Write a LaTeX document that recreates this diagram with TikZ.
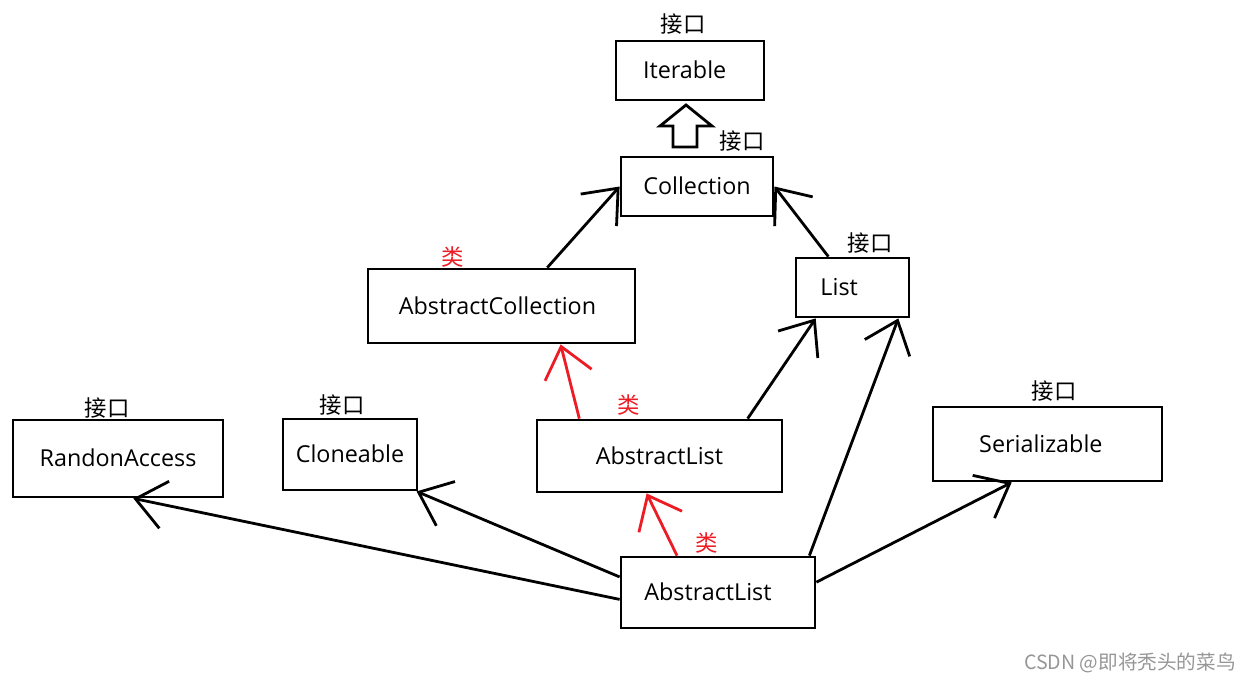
\documentclass[tikz,border=0pt]{standalone}
\usepackage{fontspec}
\setmainfont{Open Sans}
\newfontfamily\cjk{Noto Sans CJK SC}
\usepackage{xcolor}
\definecolor{pred}{RGB}{237,28,36}
\definecolor{wgray}{RGB}{150,150,150}
\usetikzlibrary{positioning, calc, arrows.meta}
\tikzstyle{Box} = [
draw,
line width=2.1pt,
inner sep=0pt,
text depth=1pt,
font=\fontsize{17.5}{20}\selectfont]
\tikzstyle{Tag} = [inner sep=0pt, font=\cjk\fontsize{16.8}{19}\selectfont]
\tikzstyle{Arrow} = [
line width=2.1pt,
-{Straight Barb[length=22pt, width=36pt]}]
\tikzstyle{ArrowRed} = [
line width=2.1pt,
pred,
-{Straight Barb[length=22pt, width=36pt]}]

\begin{document}
\begin{tikzpicture}[x=0.75pt, y=-0.75pt]
    \useasboundingbox (0,0) rectangle (1251,683);

    \node [Box, minimum width=111pt, minimum height=44.25pt] (iter) at (690,70.5) {Iterable\kern8pt};
    \node [Box, minimum width=114pt, minimum height=44.25pt] (coll) at (697,186.5) {Collection};
    \node [Box, minimum width=200.25pt, minimum height=55.5pt] (acoll) at (501.5,306) {AbstractCollection\kern6pt};
    \node [Box, minimum width=84.75pt, minimum height=44.25pt] (list) at (852.5,287.5) {List\kern20pt};
    \node [Box, minimum width=157.5pt, minimum height=57.75pt] (rand) at (118,458.5) {RandonAccess};
    \node [Box, minimum width=100.5pt, minimum height=53.25pt] (clone) at (350,454.5) {Cloneable};
    \node [Box, minimum width=183.75pt, minimum height=54pt] (alist) at (659.5,456) {AbstractList};
    \node [Box, minimum width=171.75pt, minimum height=55.5pt] (ser) at (1047.5,444) {Serializable\kern10pt};
    \node [Box, minimum width=145.5pt, minimum height=53.25pt] (alist2) at (718,592.5) {AbstractList\kern15pt};

    % tags
    \node [Tag] (t1) at (683,24) {接口};
    \node [Tag] (t2) at (742,141) {接口};
    \node [Tag, pred] (t3) at (453,257) {类};
    \node [Tag] (t4) at (870,243) {接口};
    \node [Tag] (t5) at (107,408) {接口};
    \node [Tag] (t6) at (342,405) {接口};
    \node [Tag, pred] (t7) at (629,405) {类};
    \node [Tag] (t8) at (1054,391) {接口};
    \node [Tag, pred] (t9) at (707,543) {类};

    % hollow arrow Collection -> Iterable
    \draw [line width=2.1pt, line join=miter]
        (673,147) -- (673,126) -- (660,126) -- (686,105) -- (712,126)
        -- (697,126) -- (697,147) -- cycle;

    \draw[Arrow] (acoll.40) -- (coll.west);
    \draw[Arrow] (list.128) -- (coll.east);
    \draw[Arrow] (alist.23) -- (list.220);
    \draw[Arrow] (alist2.22) -- (list.326);
    \draw[ArrowRed] (alist.155) -- (acoll.327);
    \draw[ArrowRed] (alist2.138) -- (alist.251);
    \draw[Arrow] (alist2.184) -- (rand.291);
    \draw[Arrow] (alist2.171) -- (clone.331);
    \draw[Arrow] (alist2.6) -- (ser.227);

    \node [wgray, inner sep=0pt, font=\cjk\fontsize{14.7}{17}\selectfont] (mark) at (1130,663) {CSDN @即将秃头的菜鸟};
\end{tikzpicture}
\end{document}
